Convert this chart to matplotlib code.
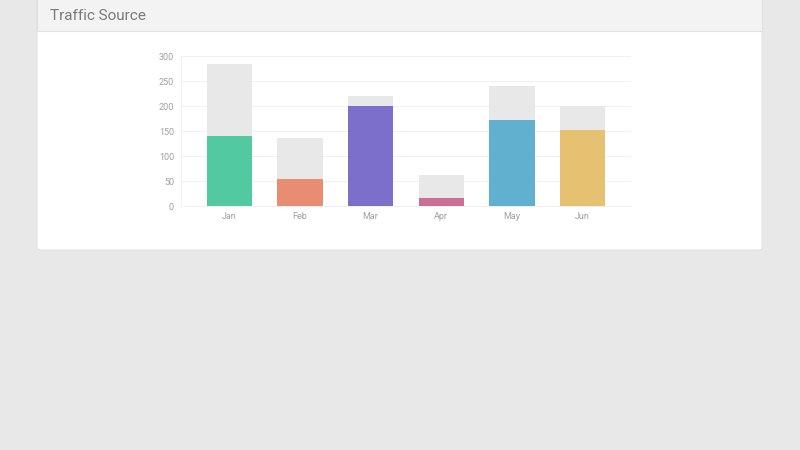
import matplotlib.pyplot as plt
from matplotlib.patches import FancyBboxPatch, Rectangle
import numpy as np

# Data
months = ["Jan", "Feb", "Mar", "Apr", "May", "Jun"]
source_values = [140, 55, 201, 17, 172, 153]
total_values = [285, 137, 220, 63, 240, 201]
bar_colors = ["#52c9a0", "#e88c72", "#7b6fcb", "#cc6f96", "#62b0d0", "#e5c171"]
y_ticks = [0, 50, 100, 150, 200, 250, 300]

plt.rcParams['font.family'] = ['Roboto', 'DejaVu Sans']

fig = plt.figure(figsize=(8, 4.5), dpi=100)
fig.patch.set_facecolor("#e8e8e8")

# card background
card = FancyBboxPatch((37 / 800, 1 - 250 / 450), (762 - 37) / 800, 250 / 450 + 0.02,
                      boxstyle="round,pad=0,rounding_size=0.004",
                      transform=fig.transFigure, facecolor="white", edgecolor="#dddddd",
                      linewidth=0.6, zorder=0)
fig.patches.append(card)
header = Rectangle((37 / 800, 1 - 31 / 450), (762 - 37) / 800, 31 / 450 + 0.01,
                   transform=fig.transFigure, facecolor="#f3f3f3", edgecolor="#e0e0e0",
                   linewidth=0.8, zorder=1)
fig.patches.append(header)
fig.text(50 / 800, 1 - 15.5 / 450, "Traffic Source", fontsize=11, color="#7a7a7a",
         va="center", ha="left", zorder=2)

ax = fig.add_axes([181 / 800, 1 - 206 / 450, 450 / 800, 150 / 450])
ax.set_zorder(5)
ax.set_facecolor("none")

x = np.arange(len(months))
width = 0.64
ax.bar(x, total_values, width=width, color="#e8e8e8", zorder=2)
ax.bar(x, source_values, width=width, color=bar_colors, zorder=3)

ax.set_xlim(-0.683, len(months) - 1 + 0.683)
ax.set_ylim(0, 300)
ax.set_yticks(y_ticks)
ax.set_xticks(x)
ax.set_xticklabels(months)
ax.tick_params(axis="both", labelsize=6.5, colors="#a0a0a0", length=0)
ax.tick_params(axis="x", pad=4)
ax.tick_params(axis="y", pad=5)
ax.grid(axis="y", color="#efefef", linewidth=0.6, zorder=0)
for side in ["top", "right"]:
    ax.spines[side].set_visible(False)
ax.spines["left"].set_color("#eeeeee")
ax.spines["bottom"].set_color("#eeeeee")
ax.spines["left"].set_linewidth(0.6)
ax.spines["bottom"].set_linewidth(0.6)

fig.savefig("out.png", dpi=100)
